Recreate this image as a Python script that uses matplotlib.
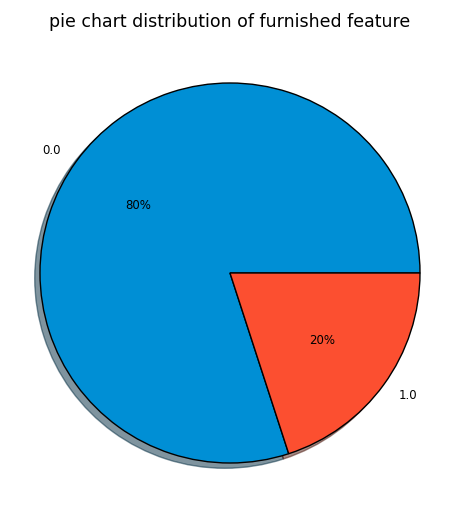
import matplotlib
matplotlib.use("Agg")
import matplotlib.pyplot as plt

labels = ["0.0", "1.0"]
values = [80, 20]
colors = ["#008fd5", "#fc4f30"]

fig = plt.figure(figsize=(4.72, 5.07), dpi=100)
ax = fig.add_axes([0, 0, 1, 1])
ax.pie(values, labels=labels, colors=colors, autopct="%1.0f%%", shadow=True,
       wedgeprops={"edgecolor": "black", "linewidth": 1}, textprops={"fontsize": 8.5})
ax.set_aspect("auto")
R = 190.0
ax.set_xlim(-230 / R, 242 / R)
ax.set_ylim(-234 / R, 273 / R)
ax.axis("off")
fig.text(0.487, 0.957, "pie chart distribution of furnished feature", ha="center", va="center", fontsize=12.5)
fig.savefig("out.png", dpi=100, facecolor="white")
